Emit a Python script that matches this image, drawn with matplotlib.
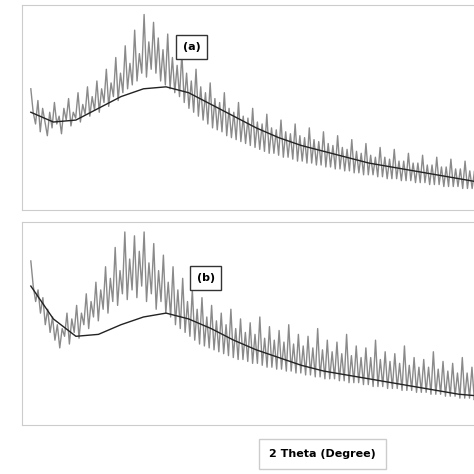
import numpy as np
import matplotlib
matplotlib.use("Agg")
import matplotlib.pyplot as plt

a_noisy = [62,50,44,56,40,52,45,38,50,42,55,44,48,39,52,46,57,43,50,47,60,45,54,49,63,48,58,51,66,50,62,55,72,53,65,58,78,56,70,60,84,62,75,64,92,66,80,70,100,68,86,72,96,70,88,66,82,64,90,62,78,60,74,58,80,55,70,52,66,50,72,48,63,46,60,44,65,42,57,41,55,40,60,38,52,37,50,36,55,35,48,34,47,33,52,32,45,31,44,30,49,29,42,29,41,28,46,27,40,27,39,26,44,25,38,25,37,24,42,24,36,23,35,23,40,22,34,22,33,21,38,21,32,20,31,20,36,19,30,19,29,18,34,18,28,18,27,17,32,17,27,16,26,16,31,16,25,15,25,15,29,15,24,14,24,14,28,14,23,13,23,13,27,13,22,12,22,12,26,12,21,12,21,11,25,11,20,11,20,10,24,10]
a_smooth = [50,45,46,52,58,62,63,60,54,48,42,37,33,30,27,24,22,20,18,16,14]
b_noisy = [85,72,64,70,58,66,52,60,48,56,44,52,40,50,46,58,42,55,48,62,45,58,52,68,50,64,56,74,54,70,60,82,58,76,64,92,62,80,68,100,65,86,70,98,66,90,72,100,64,84,68,94,60,80,64,88,58,74,56,82,52,70,50,76,48,64,46,70,44,60,42,66,41,56,40,62,39,54,38,58,37,52,36,60,35,50,34,55,34,48,33,53,32,47,32,56,31,45,30,51,30,44,29,49,29,43,28,52,28,42,27,47,27,41,26,46,26,40,25,50,25,39,24,44,24,38,24,43,23,37,23,47,22,36,22,41,22,35,21,40,21,35,20,44,20,34,20,38,19,33,19,37,19,32,18,41,18,31,18,35,17,30,17,34,17,30,16,38,16,29,16,33,15,28,15,32,15,27,14,35,14,27,14,30,13,26,13,29]
b_smooth = [72,55,46,47,52,56,58,55,50,44,39,35,31,28,26,24,22,20,18,16,15]
labels = ["(a)", "(b)"]
xlabel = "2 Theta (Degree)"

fig = plt.figure(figsize=(4.74, 4.74), dpi=100)
rects = [[0.046, 0.557, 0.97, 0.433], [0.046, 0.103, 0.97, 0.428]]
data = [(a_noisy, a_smooth), (b_noisy, b_smooth)]
lab_pos = [(0.35, 0.78), (0.38, 0.71)]
for r, (n, s), lab, lp in zip(rects, data, labels, lab_pos):
    ax = fig.add_axes(r)
    ax.plot(np.linspace(0, 100, len(n)), n, color="#8a8a8a", lw=1.0)
    ax.plot(np.linspace(0, 100, len(s)), s, color="#222222", lw=1.0)
    ax.set_xlim(-2, 100)
    ax.set_ylim(0, 105)
    ax.set_xticks([]); ax.set_yticks([])
    for sp in ax.spines.values():
        sp.set_color("#cccccc")
    ax.text(lp[0], lp[1], lab, transform=ax.transAxes, fontsize=8, fontweight="bold",
            bbox=dict(boxstyle="square,pad=0.6", fc="white", ec="#333333"))

fig.text(0.68, 0.042, xlabel, ha="center", va="center", fontsize=8, fontweight="bold",
         bbox=dict(boxstyle="square,pad=0.9", fc="white", ec="#cccccc"))
fig.savefig("out.png", dpi=100)
